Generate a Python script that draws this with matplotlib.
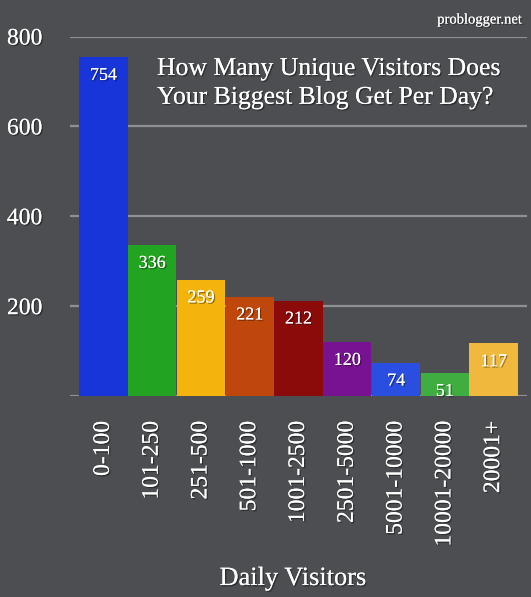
import matplotlib
matplotlib.use('Agg')
from matplotlib import pyplot as plt
import matplotlib.patheffects as pe

# data
categories = ['0-100', '101-250', '251-500', '501-1000', '1001-2500',
              '2501-5000', '5001-10000', '10001-20000', '20001+']
visitors = [754, 336, 259, 221, 212, 120, 74, 51, 117]
bar_colors = ['#1835da', '#23a322', '#f4b40c', '#c0470b', '#8b0a0a',
              '#771392', '#2a4fe0', '#3fad3f', '#f0b83c']
yticks = [200, 400, 600, 800]

BG = '#4c4e51'
FONT = 'Liberation Serif'
plt.rcParams['font.family'] = [FONT, 'DejaVu Serif']
shadow = [pe.withSimplePatchShadow(offset=(1, -1), shadow_rgbFace='black', alpha=0.4), pe.Normal()]

fig = plt.figure(figsize=(5.31, 5.97), dpi=100, facecolor=BG)
ax = fig.add_axes([70/531, 1-396/597, 457/531, 359.5/597])
ax.set_facecolor(BG)

# grid lines
for y in [0] + yticks:
    ax.axhline(y, color='#8f9092', lw=1.6, zorder=1)

ax.bar(range(len(visitors)), visitors, width=0.99, color=bar_colors, zorder=2)

# value labels inside bars
for i, v in enumerate(visitors):
    ax.annotate(str(v), (i, v), xytext=(0, -7), textcoords='offset points',
                ha='center', va='top', color='white', fontsize=13, zorder=3,
                path_effects=shadow)

ax.set_xlim(-0.684, 8.684)
ax.set_ylim(0, 800)
ax.set_yticks(yticks)
ax.set_xticks(range(len(categories)))
ax.set_xticklabels(categories, rotation=90, va='top', ha='center')
ax.tick_params(axis='both', length=0, colors='white', labelsize=17)
ax.tick_params(axis='y', pad=20)
ax.tick_params(axis='x', pad=18)
for lab in ax.get_xticklabels() + ax.get_yticklabels():
    lab.set_path_effects(shadow)
for s in ax.spines.values():
    s.set_visible(False)

# titles
fig.text(157/531, 1-58/597, 'How Many Unique Visitors Does\nYour Biggest Blog Get Per Day?',
         ha='left', va='top', color='white', fontsize=18.5, linespacing=1.4,
         path_effects=shadow)
fig.text(522/531, 1-20/597, 'problogger.net', ha='right', va='center',
         color='white', fontsize=10.5, path_effects=shadow)
fig.text(293/531, 1-579/597, 'Daily Visitors', ha='center', va='center',
         color='white', fontsize=19, path_effects=shadow)

plt.savefig('out.png', dpi=100, facecolor=BG)
